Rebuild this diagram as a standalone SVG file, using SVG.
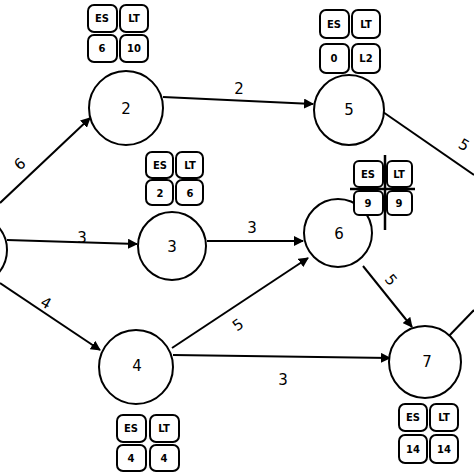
<svg xmlns="http://www.w3.org/2000/svg" width="474" height="474" viewBox="0 0 474 474">
<style>
.n{fill:#fff;stroke:#000;stroke-width:2}
.b{fill:#fff;stroke:#000;stroke-width:2}
.t{font-family:"DejaVu Sans",sans-serif;font-weight:bold;font-size:10px;text-anchor:middle;dominant-baseline:central}
.l{font-family:"DejaVu Sans",sans-serif;font-size:15px;text-anchor:middle;dominant-baseline:central}
.e{stroke:#000;stroke-width:2;fill:none;marker-end:url(#a)}
</style>
<defs>
<marker id="a" viewBox="0 0 10 10" refX="9" refY="5" markerWidth="5" markerHeight="5" orient="auto" markerUnits="strokeWidth">
<path d="M0,0 L10,5 L0,10 z" fill="#000"/>
</marker>
</defs>
<rect width="474" height="474" fill="#fff"/>
<g id="connectors">
<line class="e" x1="0" y1="203" x2="90" y2="118"/>
<line class="e" x1="7" y1="240" x2="137" y2="244"/>
<line class="e" x1="0" y1="283" x2="100" y2="350"/>
<line class="e" x1="163" y1="97" x2="313" y2="104"/>
<line class="e" x1="207" y1="241" x2="303" y2="241"/>
<line class="e" x1="172" y1="348" x2="308" y2="258"/>
<line class="e" x1="173" y1="355" x2="390" y2="358"/>
<line class="e" x1="363" y1="266" x2="412" y2="327"/>
<line stroke="#000" stroke-width="2" x1="383" y1="112" x2="474" y2="175"/>
<line stroke="#000" stroke-width="2" x1="447" y1="338" x2="474" y2="310"/>
<text class="l" x="20" y="164" transform="rotate(-40 20 164)">6</text>
<text class="l" x="82" y="238">3</text>
<text class="l" x="46" y="303" transform="rotate(30 46 303)">4</text>
<text class="l" x="239" y="89">2</text>
<text class="l" x="252" y="228">3</text>
<text class="l" x="238" y="325" transform="rotate(-35 238 325)">5</text>
<text class="l" x="283" y="380">3</text>
<text class="l" x="391" y="280" transform="rotate(50 391 280)">5</text>
<text class="l" x="464" y="145" transform="rotate(30 464 145)">5</text>
</g>
<g id="node1"><circle class="n" cx="-28" cy="250" r="35"/></g>
<g id="node2"><circle class="n" cx="126" cy="108" r="37"/><text class="l" x="126" y="109">2</text>
<rect class="b" x="88" y="5" width="29" height="27" rx="6"/><rect class="b" x="120" y="5" width="28" height="27" rx="6"/>
<rect class="b" x="88" y="35" width="29" height="27" rx="6"/><rect class="b" x="120" y="35" width="28" height="27" rx="6"/>
<text class="t" x="102" y="18">ES</text><text class="t" x="134" y="18">LT</text><text class="t" x="102" y="48">6</text><text class="t" x="134" y="48">10</text></g>
<g id="node5"><circle class="n" cx="349" cy="110" r="35"/><text class="l" x="349" y="110">5</text>
<rect class="b" x="320" y="10" width="29" height="28" rx="6"/><rect class="b" x="352" y="10" width="28" height="28" rx="6"/>
<rect class="b" x="320" y="44" width="29" height="29" rx="6"/><rect class="b" x="352" y="44" width="28" height="29" rx="6"/>
<text class="t" x="334" y="24">ES</text><text class="t" x="366" y="24">LT</text><text class="t" x="334" y="58">0</text><text class="t" x="366" y="58">L2</text></g>
<g id="node3"><circle class="n" cx="172" cy="246" r="34"/><text class="l" x="172" y="247">3</text>
<rect class="b" x="146" y="152" width="27" height="26" rx="6"/><rect class="b" x="176" y="152" width="27" height="26" rx="6"/>
<rect class="b" x="146" y="180" width="27" height="25" rx="6"/><rect class="b" x="176" y="180" width="27" height="25" rx="6"/>
<text class="t" x="160" y="165">ES</text><text class="t" x="190" y="165">LT</text><text class="t" x="160" y="193">2</text><text class="t" x="190" y="193">6</text></g>
<g id="node6"><circle class="n" cx="338" cy="233" r="34"/><text class="l" x="339" y="234">6</text>
<rect class="b" x="354" y="161" width="29" height="26" rx="5"/><rect class="b" x="387" y="161" width="25" height="26" rx="5"/>
<rect class="b" x="354" y="191" width="29" height="24" rx="5"/><rect class="b" x="387" y="191" width="25" height="24" rx="5"/>
<line stroke="#000" stroke-width="2.5" x1="385" y1="155" x2="385" y2="230"/>
<line stroke="#000" stroke-width="2.5" x1="350" y1="189" x2="415" y2="189"/>
<text class="t" x="368" y="174">ES</text><text class="t" x="399" y="174">LT</text><text class="t" x="368" y="203">9</text><text class="t" x="399" y="203">9</text></g>
<g id="node4"><circle class="n" cx="136" cy="367" r="37"/><text class="l" x="137" y="366">4</text>
<rect class="b" x="117" y="415" width="29" height="27" rx="6"/><rect class="b" x="150" y="415" width="29" height="27" rx="6"/>
<rect class="b" x="117" y="445" width="29" height="26" rx="6"/><rect class="b" x="150" y="445" width="29" height="26" rx="6"/>
<text class="t" x="131" y="428">ES</text><text class="t" x="164" y="428">LT</text><text class="t" x="131" y="458">4</text><text class="t" x="164" y="458">4</text></g>
<g id="node7"><circle class="n" cx="425" cy="362" r="36"/><text class="l" x="427" y="362">7</text>
<rect class="b" x="399" y="404" width="28" height="27" rx="6"/><rect class="b" x="430" y="404" width="28" height="27" rx="6"/>
<rect class="b" x="399" y="435" width="28" height="28" rx="6"/><rect class="b" x="430" y="435" width="28" height="28" rx="6"/>
<text class="t" x="413" y="417">ES</text><text class="t" x="444" y="417">LT</text><text class="t" x="413" y="449">14</text><text class="t" x="444" y="449">14</text></g>
</svg>
